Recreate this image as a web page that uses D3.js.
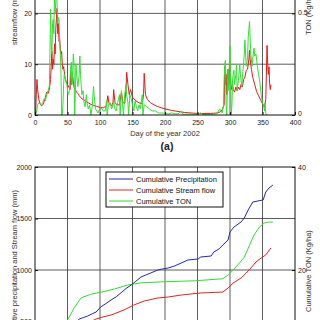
<!DOCTYPE html>
<html lang="en">
<head>
<meta charset="UTF-8">
<title>Streamflow and TON 2002</title>
<script src="https://d3js.org/d3.v7.min.js"></script>
<style>
    body { margin: 0; background: #fff; }
    svg { display: block; font-family: "Liberation Sans", Arial, sans-serif; }
    .tick-label { font-size: 7px; fill: #222; }
    .axis-label { font-size: 7.5px; fill: #333; }
    .grid { stroke: #333; stroke-width: 0.8; }
    .frame { fill: none; stroke: #111; stroke-width: 1; }
    .series { fill: none; stroke-width: 1; }
    .legend-text { font-size: 7.5px; fill: #111; }
</style>
</head>
<body>
<script>
// ---- data ----
var xTicks = [0, 50, 100, 150, 200, 250, 300, 350, 400];
var flowTicks = [0, 10, 20];
var tonTicks = [0, 0.5];
var cumMmTicks = [500, 1000, 1500, 2000];
var cumTonTicks = [20, 40];

// daily stream flow (mm) : [day, value]
var streamflow = [[1,0.5],[2,4],[3,7],[4,5],[6,3],[8,2.2],[10,1.8],[12,2],[14,2.6],[16,3.5],[18,4.5],[20,4.2],[22,5],[24,7],[25,10],[26,12.5],[27,9],[28,11],[29,10],[30,14],[31,12],[32,17],[33,19],[34,21],[35,16],[36,18],[37,14.5],[38,15],[39,13],[40,12],[41,12.5],[42,10],[43,9],[44,9.5],[46,7.5],[48,6.5],[50,6],[52,5.5],[54,5],[55,8.5],[56,6],[58,7.5],[60,5.5],[62,5],[64,4.5],[66,4.2],[68,3.8],[70,3.5],[72,3.2],[75,3],[78,2.7],[82,2.4],[86,2.1],[90,1.9],[95,1.7],[100,1.5],[105,1.4],[110,1.8],[112,3.8],[114,2.2],[118,1.8],[120,2.5],[121,5],[123,2.5],[126,2],[130,2],[133,4.5],[135,2.5],[138,2.3],[140,5],[141,8.4],[143,6],[145,4],[147,5],[148,4.5],[150,3.5],[155,2.8],[160,2.4],[165,2.2],[167,4],[168,8.2],[170,4],[173,3],[178,2.4],[183,2],[188,1.7],[195,1.4],[200,1.2],[210,0.9],[220,0.7],[230,0.5],[240,0.4],[250,0.3],[260,0.3],[270,0.3],[280,0.4],[285,0.6],[288,1],[291,2],[292,9.5],[293,6],[294,8],[295,4],[296,7],[297,9],[298,6],[299,8],[300,10.5],[301,7],[302,5],[304,6],[305,5],[307,4.5],[309,5.5],[311,4.8],[313,5.5],[315,5],[317,6],[319,5.5],[321,7],[323,7.5],[325,8.8],[327,9],[329,11],[330,12.7],[331,11],[333,9],[335,7.4],[338,6],[341,4.6],[344,3.8],[347,3],[350,2.2],[353,1.6],[355,3],[357,13.7],[358,10],[359,8],[360,9.5],[361,6],[362,5],[363,6]];

// daily TON (Kg/ha) : [day, value]
var ton = [[0,0],[2,0.01],[4,0.05],[6,0.06],[9,0.05],[12,0.06],[14,0.08],[16,0.07],[18,0.1],[20,0.12],[22,0.14],[23,0.3],[24,0.52],[25,0.35],[26,0.3],[27,0.45],[28,0.47],[29,0.4],[30,0.58],[31,0.5],[32,0.56],[33,0.6],[34,0.55],[35,0.45],[36,0.48],[37,0.47],[38,0.35],[39,0.3],[40,0.2],[41,0],[42,0],[43,0.05],[44,0.15],[45,0.2],[47,0.17],[49,0.15],[51,0.1],[53,0.12],[55,0.24],[56,0.26],[57,0.15],[58,0.22],[59,0.3],[60,0.25],[61,0],[62,0.1],[63,0.25],[64,0.2],[65,0.17],[66,0.14],[68,0.2],[69,0.29],[70,0.2],[71,0.15],[72,0.1],[74,0.12],[75,0.07],[77,0.04],[79,0.1],[80,0.06],[82,0.03],[84,0.05],[86,0],[88,0.04],[90,0.14],[91,0.1],[93,0.03],[95,0.02],[97,0.01],[100,0.035],[103,0.03],[105,0.02],[108,0.02],[110,0.07],[111,0],[113,0.05],[116,0.06],[118,0.03],[120,0.05],[121,0.07],[123,0.03],[125,0.02],[127,0.06],[130,0.1],[131,0],[133,0.12],[134,0.08],[136,0],[138,0.1],[140,0.15],[141,0.1],[143,0.06],[144,0],[146,0.1],[148,0.08],[150,0.05],[152,0.02],[154,0.07],[156,0.04],[158,0.02],[160,0.05],[162,0.03],[165,0.1],[166,0],[168,0.05],[172,0.04],[176,0.03],[180,0.02],[185,0.02],[190,0.01],[195,0.01],[200,0.008],[205,0.005],[210,0.01],[215,0.006],[220,0.005],[225,0.02],[227,0.005],[230,0.004],[240,0.004],[250,0.003],[255,0.01],[258,0.002],[265,0.003],[270,0.002],[275,0.004],[280,0.005],[284,0.03],[286,0.02],[288,0.01],[290,0.05],[291,0.18],[292,0.25],[293,0.27],[294,0.05],[295,0],[296,0.15],[297,0.22],[298,0.12],[299,0.25],[300,0.34],[301,0.15],[302,0],[303,0.05],[304,0.18],[306,0.22],[307,0.15],[309,0.2],[310,0.25],[311,0.12],[313,0.17],[315,0.25],[316,0.2],[318,0.14],[320,0.22],[322,0.3],[323,0.37],[324,0.3],[325,0.24],[327,0.28],[328,0.38],[329,0.42],[330,0.46],[331,0.38],[332,0.3],[334,0.24],[335,0.28],[337,0.33],[338,0.29],[340,0.3],[342,0.24],[344,0.2],[346,0.16],[348,0.1],[350,0.06],[352,0.04],[353,0.02],[354,0.06],[355,0.01],[356,0],[358,0]];

// cumulative series
var cumPrecip = [[0,0],[20,180],[40,330],[60,460],[68,524],[75,540],[81,553],[88,575],[94,592],[101,641],[108,670],[117,709],[125,740],[132,777],[140,820],[148,854],[155,890],[163,932],[170,950],[178,971],[189,1000],[196,1010],[205,1019],[215,1040],[225,1068],[235,1097],[251,1107],[255,1126],[271,1136],[275,1175],[283,1204],[289,1243],[297,1291],[300,1369],[306,1417],[317,1466],[322,1505],[328,1583],[335,1660],[343,1670],[351,1680],[355,1757],[360,1796],[366,1825]];
var cumFlow = [[0,0],[30,200],[60,400],[80,480],[94,524],[105,545],[117,563],[137,612],[152,660],[168,699],[189,728],[205,738],[225,757],[255,777],[289,786],[297,825],[305,874],[317,922],[325,971],[332,1019],[340,1078],[348,1117],[355,1146],[363,1214]];
var cumTon = [[0,0],[20,2],[35,5],[45,8.5],[51,10.5],[60,12.6],[71,14.6],[86,15.3],[102,15.7],[122,16.3],[143,17.1],[163,17.5],[194,17.7],[245,17.9],[289,18.3],[297,19],[305,20],[312,21],[322,22.5],[329,24.5],[337,26.8],[345,28.3],[352,29.1],[359,29.3],[366,29.3]];

var legendNames = ["Cumulative Precipitation", "Cumulative Stream flow", "Cumulative TON"];
var legendColors = ["#2424b8", "#e82020", "#30dd30"];

// ---- drawing ----
var W = 320, H = 320;
var svg = d3.select("body").append("svg").attr("width", W).attr("height", H);

var left = 35, right = 295;
var x = d3.scaleLinear().domain([0, 400]).range([left, right]);

// top panel
var top1 = -12, bottom1 = 115;
var yFlow = d3.scaleLinear().domain([0, 25]).range([bottom1, top1]);
var yTon = d3.scaleLinear().domain([0, 0.625]).range([bottom1, top1]);

// bottom panel
var top2 = 167, bottom2 = 373;
var yMm = d3.scaleLinear().domain([0, 2000]).range([bottom2, top2]);
var yCton = d3.scaleLinear().domain([0, 40]).range([bottom2, top2]);

var fmt = d3.format("~g");

function clip(id, y0, y1) {
    svg.append("clipPath").attr("id", id).append("rect")
        .attr("x", left).attr("y", y0).attr("width", right - left).attr("height", y1 - y0);
}
clip("c1", top1, bottom1);
clip("c2", top2, bottom2);

function grid(y0, y1, yScale, yVals) {
    var g = svg.append("g");
    g.selectAll(".gx").data(xTicks.slice(1, -1)).enter().append("line")
        .attr("class", "grid")
        .attr("x1", function(d) { return x(d); }).attr("x2", function(d) { return x(d); })
        .attr("y1", y0).attr("y2", y1);
    g.selectAll(".gy").data(yVals).enter().append("line")
        .attr("class", "grid")
        .attr("x1", left).attr("x2", right)
        .attr("y1", function(d) { return yScale(d); }).attr("y2", function(d) { return yScale(d); });
}
grid(top1, bottom1, yFlow, [10, 20]);
grid(top2, bottom2, yMm, [500, 1000, 1500]);

function drawLine(data, yScale, color, clipId) {
    var line = d3.line().x(function(d) { return x(d[0]); }).y(function(d) { return yScale(d[1]); });
    svg.append("path").datum(data)
        .attr("class", "series")
        .attr("clip-path", "url(#" + clipId + ")")
        .attr("stroke", color)
        .attr("d", line);
}

drawLine(streamflow, yFlow, "#e81818", "c1");
drawLine(ton, yTon, "#33e033", "c1");

drawLine(cumFlow, yMm, legendColors[1], "c2");
drawLine(cumTon, yCton, legendColors[2], "c2");
drawLine(cumPrecip, yMm, legendColors[0], "c2");

// frames
svg.append("rect").attr("class", "frame").attr("x", left).attr("y", top1)
    .attr("width", right - left).attr("height", bottom1 - top1);
svg.append("rect").attr("class", "frame").attr("x", left).attr("y", top2)
    .attr("width", right - left).attr("height", bottom2 - top2);

// axes (inward ticks, labels outside)
function styleAxis(g) {
    g.select(".domain").remove();
    g.selectAll(".tick line").attr("stroke", "#111");
    g.selectAll(".tick text").attr("class", "tick-label").attr("fill", null);
}

svg.append("g").attr("transform", "translate(0," + bottom1 + ")")
    .call(d3.axisBottom(x).tickValues(xTicks).tickFormat(fmt).tickSize(-3).tickPadding(5))
    .call(styleAxis);

svg.append("g").attr("transform", "translate(" + left + ",0)")
    .call(d3.axisLeft(yFlow).tickValues(flowTicks).tickFormat(fmt).tickSize(-3).tickPadding(3))
    .call(styleAxis);
svg.append("g").attr("transform", "translate(" + right + ",0)")
    .call(d3.axisRight(yTon).tickValues(tonTicks).tickFormat(fmt).tickSize(-3).tickPadding(3))
    .call(styleAxis)
    .selectAll(".tick text").attr("dy", "0.1em");

svg.append("g").attr("transform", "translate(" + left + ",0)")
    .call(d3.axisLeft(yMm).tickValues(cumMmTicks).tickFormat(fmt).tickSize(-3).tickPadding(3))
    .call(styleAxis);
svg.append("g").attr("transform", "translate(" + right + ",0)")
    .call(d3.axisRight(yCton).tickValues(cumTonTicks).tickFormat(fmt).tickSize(-3).tickPadding(3))
    .call(styleAxis);

// axis titles
svg.append("text").attr("class", "axis-label")
    .attr("transform", "translate(17,45) rotate(-90)")
    .attr("text-anchor", "start").text("streamflow (mm)");
svg.append("text").attr("class", "axis-label")
    .attr("transform", "translate(311,35) rotate(-90)")
    .attr("text-anchor", "start").text("TON (Kg/ha)");
svg.append("text").attr("class", "axis-label")
    .attr("x", (left + right) / 2).attr("y", 136)
    .attr("text-anchor", "middle").text("Day of the year 2002");
svg.append("text")
    .attr("x", 167).attr("y", 150)
    .attr("text-anchor", "middle")
    .style("font-size", "10.5px").style("font-weight", "bold").style("fill", "#222")
    .text("(a)");

svg.append("text").attr("class", "axis-label")
    .attr("transform", "translate(17,190) rotate(-90)")
    .attr("text-anchor", "end").text("Cumulative precipitation and Stream flow (mm)");
svg.append("text").attr("class", "axis-label")
    .attr("transform", "translate(311,312) rotate(-90)")
    .attr("text-anchor", "start").text("Cumulative TON (Kg/ha)");

// legend
var lg = svg.append("g");
lg.append("rect").attr("x", 106).attr("y", 172).attr("width", 117).attr("height", 35)
    .attr("fill", "#fff").attr("stroke", "#111").attr("stroke-width", 1);
legendNames.forEach(function(name, i) {
    var yy = 179 + i * 11;
    lg.append("line").attr("x1", 109).attr("x2", 133).attr("y1", yy).attr("y2", yy)
        .attr("stroke", legendColors[i]).attr("stroke-width", 1);
    lg.append("text").attr("class", "legend-text").attr("x", 136).attr("y", yy + 2.6)
        .text(name);
});
</script>
</body>
</html>
